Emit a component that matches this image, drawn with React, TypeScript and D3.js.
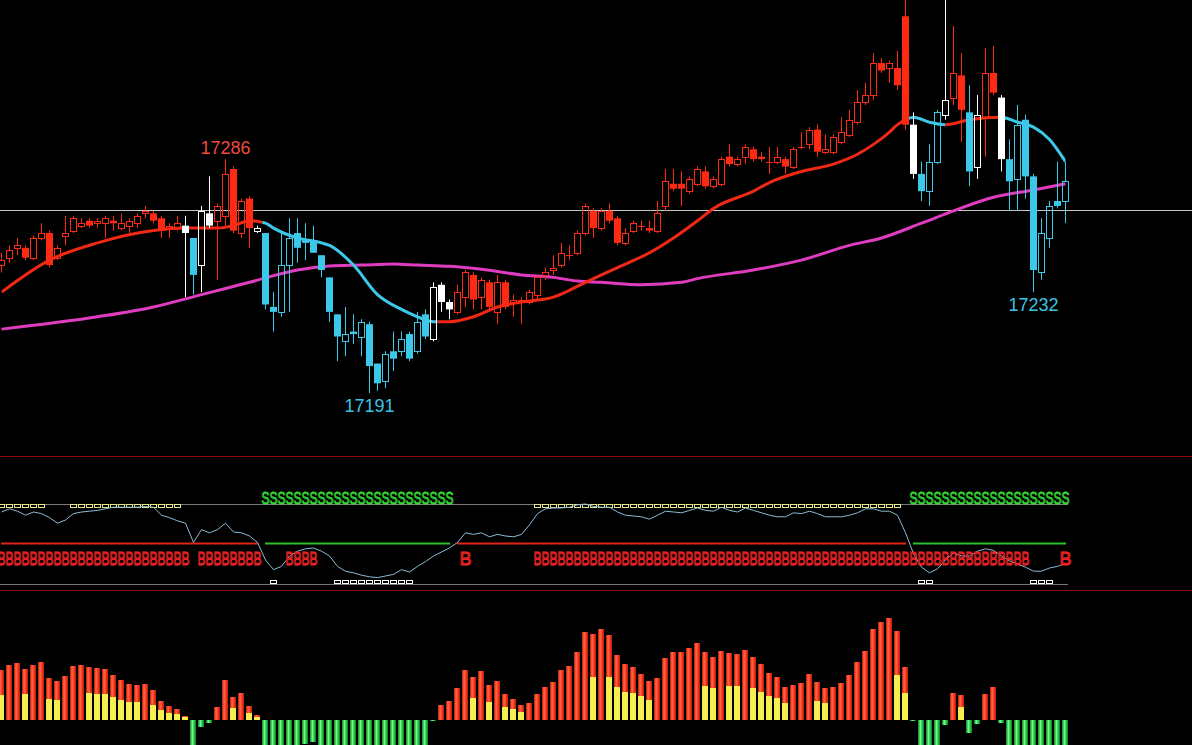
import React from 'react';
import * as d3 from 'd3';

const W = 1192;
const H = 745;

// ---------- price panel data ----------
// [open, high, low, close]
const ohlc: [number, number, number, number][] = [
  [17243, 17248, 17240, 17245], [17246, 17251, 17244, 17249], [17250, 17254, 17247, 17251], [17250, 17251, 17245, 17246],
  [17246, 17255, 17245, 17254], [17254, 17260, 17253, 17256], [17256, 17257, 17242, 17243], [17246, 17251, 17245, 17250],
  [17255, 17263, 17251, 17256], [17257, 17263, 17256, 17262], [17259, 17262, 17258, 17260], [17261, 17262, 17258, 17259],
  [17260, 17262, 17258, 17261], [17260, 17263, 17254, 17262], [17261, 17263, 17257, 17260], [17258, 17264, 17257, 17260],
  [17259, 17262, 17256, 17261], [17260, 17264, 17258, 17263], [17264, 17267, 17262, 17265], [17264, 17265, 17260, 17261],
  [17262, 17263, 17254, 17257], [17258, 17260, 17254, 17259], [17258, 17263, 17257, 17260], [17259, 17263, 17230, 17256],
  [17254, 17254, 17231, 17239], [17243, 17267, 17232, 17265], [17264, 17279, 17258, 17259], [17261, 17268, 17237, 17267],
  [17263, 17286, 17259, 17280], [17282, 17283, 17256, 17257], [17256, 17270, 17254, 17269], [17270, 17271, 17250, 17258],
  [17257, 17259, 17256, 17258], [17256, 17256, 17225, 17227], [17226, 17232, 17216, 17224], [17224, 17256, 17222, 17243],
  [17243, 17262, 17224, 17254], [17256, 17262, 17244, 17250], [17253, 17260, 17245, 17252], [17253, 17259, 17248, 17248],
  [17247, 17247, 17238, 17241], [17238, 17238, 17220, 17224], [17223, 17223, 17204, 17214], [17212, 17226, 17206, 17215],
  [17216, 17223, 17211, 17215], [17214, 17221, 17206, 17220], [17219, 17220, 17191, 17202], [17203, 17203, 17192, 17195],
  [17196, 17208, 17193, 17207], [17208, 17216, 17200, 17205], [17208, 17216, 17206, 17213], [17215, 17216, 17204, 17205],
  [17208, 17224, 17207, 17220], [17223, 17225, 17213, 17214], [17213, 17236, 17212, 17234], [17235, 17236, 17224, 17228],
  [17228, 17229, 17221, 17225], [17224, 17235, 17223, 17232], [17230, 17241, 17226, 17240], [17239, 17240, 17225, 17229],
  [17230, 17238, 17225, 17237], [17236, 17237, 17225, 17226], [17224, 17239, 17219, 17236], [17236, 17237, 17225, 17226],
  [17228, 17231, 17222, 17229], [17229, 17230, 17219, 17229], [17228, 17233, 17227, 17232], [17231, 17239, 17229, 17238],
  [17239, 17242, 17237, 17240], [17241, 17247, 17239, 17242], [17243, 17252, 17242, 17248], [17247, 17251, 17245, 17247],
  [17248, 17257, 17247, 17256], [17256, 17268, 17255, 17267], [17265, 17266, 17254, 17258], [17258, 17266, 17257, 17265],
  [17265, 17268, 17260, 17261], [17262, 17263, 17251, 17252], [17252, 17258, 17251, 17256], [17257, 17261, 17256, 17260],
  [17259, 17261, 17257, 17259], [17258, 17261, 17256, 17257], [17257, 17269, 17256, 17264], [17267, 17282, 17265, 17277],
  [17276, 17282, 17273, 17274], [17276, 17281, 17267, 17274], [17273, 17279, 17272, 17278], [17276, 17283, 17275, 17282],
  [17281, 17283, 17274, 17275], [17275, 17279, 17274, 17278], [17276, 17287, 17275, 17286], [17287, 17292, 17283, 17284],
  [17284, 17287, 17283, 17286], [17287, 17292, 17284, 17291], [17290, 17291, 17285, 17286], [17287, 17289, 17285, 17286],
  [17285, 17291, 17280, 17285], [17285, 17291, 17284, 17287], [17286, 17287, 17280, 17283], [17283, 17291, 17282, 17290],
  [17291, 17297, 17290, 17291], [17292, 17299, 17290, 17298], [17298, 17300, 17287, 17289], [17289, 17296, 17288, 17290],
  [17289, 17296, 17288, 17295], [17293, 17303, 17292, 17297], [17296, 17306, 17295, 17302], [17301, 17314, 17300, 17309],
  [17309, 17317, 17308, 17312], [17312, 17329, 17310, 17325], [17325, 17327, 17321, 17322], [17323, 17326, 17317, 17325],
  [17323, 17330, 17314, 17316], [17344, 17358, 17298, 17300], [17300, 17305, 17278, 17280], [17280, 17285, 17269, 17273],
  [17273, 17292, 17267, 17285], [17285, 17306, 17284, 17305], [17304, 17356, 17302, 17310], [17311, 17340, 17308, 17321],
  [17320, 17329, 17293, 17306], [17305, 17316, 17275, 17281], [17283, 17312, 17278, 17304], [17303, 17331, 17287, 17321],
  [17321, 17332, 17312, 17313], [17311, 17312, 17281, 17286], [17286, 17294, 17265, 17277], [17278, 17308, 17265, 17300],
  [17302, 17304, 17270, 17279], [17279, 17280, 17232, 17241], [17240, 17262, 17237, 17256], [17254, 17269, 17250, 17267],
  [17269, 17285, 17266, 17267], [17269, 17285, 17260, 17277],
];

// colour state per candle range: r = red, c = cyan, w = white
const trendRanges: [number, number, string][] = [
  [0, 22, 'r'], [23, 23, 'w'], [24, 24, 'c'], [25, 26, 'w'], [27, 31, 'r'], [32, 32, 'w'], [33, 53, 'c'],
  [54, 56, 'w'], [57, 113, 'r'], [114, 114, 'w'], [115, 117, 'c'], [118, 118, 'w'], [119, 120, 'r'],
  [121, 121, 'c'], [122, 122, 'w'], [123, 124, 'r'], [125, 125, 'w'], [126, 133, 'c'],
];

const maShortIdx = [0, 6, 12, 19, 23, 27, 29, 31, 33, 34, 37, 40, 41, 44, 47, 50, 52, 54, 56, 59, 62, 65, 69, 73, 75, 77, 81, 84, 87, 89, 94, 96, 100, 104, 107, 109, 111, 112, 113, 114, 116, 118, 121, 125, 127, 129, 131, 133];
const maShortVal = [17232, 17245, 17252, 17257, 17258, 17258, 17259, 17261, 17260, 17258, 17254, 17252, 17251, 17243, 17231, 17225, 17222, 17220, 17220, 17222, 17226, 17228, 17230, 17236, 17239, 17242, 17248, 17254, 17261, 17266, 17273, 17276.5, 17281, 17284, 17288, 17292, 17297, 17300, 17302, 17303, 17301, 17300, 17302, 17303, 17301, 17299, 17294, 17285];
const maShortColors: [number, number, string][] = [
  [0, 32.6, 'r'], [32.6, 54.5, 'c'], [54.5, 113, 'r'], [113, 118, 'c'], [118, 125.2, 'r'], [125.2, 133, 'c'],
];

const maLongIdx = [0, 12, 19, 25, 31, 37, 41, 45, 49, 52, 56, 60, 65, 69, 72, 75, 80, 85, 87, 94, 100, 106, 110, 115, 119, 124, 129, 133];
const maLongVal = [17217, 17222, 17226, 17231, 17236, 17241, 17242.6, 17243, 17243.4, 17243, 17242.5, 17241.3, 17239, 17238, 17236.5, 17236, 17235, 17236, 17237.5, 17241, 17245, 17251, 17254, 17260, 17265, 17270.5, 17273.5, 17276];

const refPrice = 17265.3;
const highLabels = [28];
const lowLabels = [46, 129];

// ---------- indicator panel data (0..100) ----------
const indicator = [
  90, 94, 91, 86, 90, 88, 83, 76, 80, 88,
  90, 91, 92, 94, 96, 96, 96, 96, 97, 96,
  86, 83, 79, 76, 52, 68, 64, 68, 76, 65,
  64, 60, 52, 30, 18, 22, 35, 41, 44, 45,
  41, 35, 22, 16, 14, 11, 9, 8, 10, 12,
  18, 15, 22, 28, 35, 40, 45, 52, 64, 62,
  64, 59, 62, 60, 59, 62, 74, 88, 94, 95,
  95, 96, 99, 100, 97, 96, 96, 90, 86, 85,
  84, 81, 86, 91, 90, 89, 92, 95, 92, 91,
  96, 92, 90, 95, 92, 89, 86, 84, 84, 89,
  88, 91, 88, 84, 84, 84, 86, 89, 94, 94,
  91, 91, 86, 64, 38, 21, 14, 19, 30, 39,
  35, 35, 41, 44, 42, 35, 29, 25, 21, 16,
  16, 20, 22, 26,
];
const topMarks: [number, number][] = [[0, 5], [9, 22], [67, 112]];
const bottomMarks: [number, number][] = [[34, 34], [42, 51], [115, 116], [129, 131]];
const sMarks: [number, number][] = [[33, 56], [114, 133]];
const bMarks: [number, number][] = [[0, 23], [25, 32], [36, 39], [58, 58], [67, 128], [133, 133]];
const stateLine: [number, number, string][] = [[0, 32, 'r'], [33, 56, 'g'], [57, 113, 'r'], [114, 133, 'g']];

// ---------- histogram panel data ----------
const hist = [
  50, 55, 57, 51, 55, 58, 42, 39, 44, 54,
  55, 53, 52, 51, 45, 40, 36, 35, 36, 30,
  19, 14, 11, 4, -40, -7, -3, 13, 40, 23,
  27, 14, 5, -40, -40, -40, -40, -40, -24, -22,
  -40, -40, -40, -40, -40, -40, -40, -40, -40, -40,
  -40, -40, -40, -40, -1, 15, 19, 32, 50, 43,
  49, 35, 39, 26, 21, 15, 17, 26, 33, 38,
  50, 54, 68, 88, 86, 91, 85, 65, 56, 53,
  46, 39, 42, 62, 68, 68, 72, 77, 68, 63,
  69, 67, 66, 70, 63, 56, 47, 43, 33, 35,
  37, 46, 38, 32, 33, 37, 45, 58, 69, 91,
  98, 102, 89, 53, -1, -40, -40, -40, -5, 27,
  25, -13, -4, 26, 33, -3, -40, -40, -40, -40,
  -40, -40, -40, -40,
];
const yellow = [
  25, 0, 0, 26, 0, 0, 21, 20, 0, 0,
  0, 27, 26, 26, 23, 20, 18, 18, 0, 15,
  10, 7, 6, 3, 0, 0, 0, 0, 0, 12,
  0, 7, 3, 0, 0, 0, 0, 0, 0, 0,
  0, 0, 0, 0, 0, 0, 0, 0, 0, 0,
  0, 0, 0, 0, 0, 0, 0, 0, 0, 22,
  0, 18, 0, 13, 11, 8, 0, 0, 0, 0,
  0, 0, 0, 0, 43, 0, 43, 33, 28, 27,
  24, 20, 0, 0, 0, 0, 0, 0, 34, 32,
  0, 34, 34, 0, 32, 28, 24, 22, 17, 0,
  0, 0, 19, 17, 0, 0, 0, 0, 0, 0,
  0, 0, 45, 27, 0, 0, 0, 0, 0, 0,
  13, 0, 0, 0, 0, 0, 0, 0, 0, 0,
  0, 0, 0, 0,
];

const COL: Record<string, string> = { r: '#ff2a14', c: '#3cc8e8', w: '#ffffff', g: '#22c022' };

function expand(ranges: [number, number][]) {
  const out: number[] = [];
  ranges.forEach(([a, b]) => {
    for (let i = a; i <= b; i++) out.push(i);
  });
  return out;
}

export default function App() {
  const n = ohlc.length;
  const x = d3.scaleLinear().domain([0, n - 1]).range([1, 1065]);
  const step = x(1) - x(0);
  const px = (i: number) => Math.round(x(i)) + 0.5;
  const y = d3.scaleLinear().domain([17350.6, 17165.9]).range([0, 455]);
  const yi = d3.scaleLinear().domain([0, 100]).range([584, 504]);
  const yh = d3.scaleLinear().domain([0, 100]).range([720, 620]);

  const colorOf = (i: number) => {
    const r = trendRanges.find(([a, b]) => i >= a && i <= b);
    return COL[r ? r[2] : 'r'];
  };

  const maShort = d3
    .line<number>()
    .x((_, k) => x(maShortIdx[k]) + 0.5)
    .y((d) => y(d))
    .curve(d3.curveMonotoneX)(maShortVal) as string;
  const maLong = d3
    .line<number>()
    .x((_, k) => x(maLongIdx[k]) + 0.5)
    .y((d) => y(d))
    .curve(d3.curveMonotoneX)(maLongVal) as string;
  const indLine = d3
    .line<number>()
    .x((_, k) => x(k) + 0.5)
    .y((d) => yi(d))(indicator) as string;

  // one text element per run of markers, squeezed to one bar step per letter
  const runText = (
    ranges: [number, number][],
    ch: string,
    yBase: number,
    size: number,
    fill: string,
    stroke: string,
    key: string
  ) =>
    ranges.map(([a, b]) => {
      const count = b - a + 1;
      const x0 = px(a) - step / 2;
      const len = step * count;
      return count > 1 ? (
        <text
          key={`${key}${a}`}
          x={x0}
          y={yBase}
          fontSize={size}
          textLength={len}
          lengthAdjust="spacingAndGlyphs"
          fill={fill}
          stroke={stroke}
          strokeWidth={0.8}
        >
          {ch.repeat(count)}
        </text>
      ) : (
        <text key={`${key}${a}`} x={px(a)} y={yBase} fontSize={size} textAnchor="middle" fill={fill} stroke={stroke} strokeWidth={0.8}>
          {ch}
        </text>
      );
    });

  return (
    <svg
      width={W}
      height={H}
      style={{ position: 'fixed', left: 0, top: 0, background: '#000', display: 'block' }}
      fontFamily="'Liberation Sans', Arial, sans-serif"
    >
      <defs>
        <clipPath id="mainClip">
          <rect x={0} y={0} width={W} height={455} />
        </clipPath>
        <clipPath id="histClip">
          <rect x={0} y={591} width={W} height={154} />
        </clipPath>
        {maShortColors.map(([a, b], k) => (
          <clipPath id={`maSeg${k}`} key={k}>
            <rect x={x(a) + 0.5} y={0} width={x(b) - x(a)} height={455} />
          </clipPath>
        ))}
        <linearGradient id="gRed" x1="0" x2="1" y1="0" y2="0">
          <stop offset="0" stopColor="#b81a08" />
          <stop offset="0.35" stopColor="#ff6a4a" />
          <stop offset="0.65" stopColor="#ff3a1e" />
          <stop offset="1" stopColor="#b81a08" />
        </linearGradient>
        <linearGradient id="gGreen" x1="0" x2="1" y1="0" y2="0">
          <stop offset="0" stopColor="#0a7a22" />
          <stop offset="0.4" stopColor="#70ff90" />
          <stop offset="0.65" stopColor="#2cd04c" />
          <stop offset="1" stopColor="#0a7a22" />
        </linearGradient>
      </defs>
      <rect x={0} y={0} width={W} height={H} fill="#000" />

      {/* ---------- price panel ---------- */}
      <g clipPath="url(#mainClip)">
        <line x1={0} x2={W} y1={Math.round(y(refPrice)) + 0.5} y2={Math.round(y(refPrice)) + 0.5} stroke="#c8c8c8" strokeWidth={1} />
        <path d={maLong} fill="none" stroke="#e03cc0" strokeWidth={3} />
        {maShortColors.map(([, , c], k) => (
          <path key={k} d={maShort} fill="none" stroke={c === 'r' ? '#f02814' : '#3cc8e8'} strokeWidth={3} clipPath={`url(#maSeg${k})`} />
        ))}
        {ohlc.map(([o, h, l, c], i) => {
          const col = colorOf(i);
          const cx = px(i);
          const yo = y(o);
          const yc = y(c);
          const top = Math.min(yo, yc);
          const bot = Math.max(yo, yc);
          const yH = y(h);
          const yL = y(l);
          if (c > o) {
            const t = Math.round(top) + 0.5;
            const b = Math.round(bot) + 0.5;
            return (
              <g key={i}>
                <line x1={cx} x2={cx} y1={yH} y2={t} stroke={col} />
                <line x1={cx} x2={cx} y1={b} y2={yL} stroke={col} />
                <rect x={cx - 3} y={t} width={6} height={Math.max(1, b - t)} fill="none" stroke={col} />
              </g>
            );
          }
          if (c < o) {
            return (
              <g key={i}>
                <line x1={cx} x2={cx} y1={yH} y2={yL} stroke={col} />
                <rect x={cx - 3.5} y={top} width={7} height={Math.max(1, bot - top)} fill={col} />
              </g>
            );
          }
          const ym = Math.round(yo) + 0.5;
          return (
            <g key={i}>
              <line x1={cx} x2={cx} y1={yH} y2={yL} stroke={col} />
              <line x1={cx - 3.5} x2={cx + 3.5} y1={ym} y2={ym} stroke={col} />
            </g>
          );
        })}
        {highLabels.map((i) => (
          <text key={`h${i}`} x={px(i)} y={y(ohlc[i][1]) - 5} textAnchor="middle" fontSize={18} fill="#ee4a3e">
            {ohlc[i][1]}
          </text>
        ))}
        {lowLabels.map((i) => (
          <text key={`l${i}`} x={px(i)} y={y(ohlc[i][2]) + 19} textAnchor="middle" fontSize={18} fill="#3cc4e4">
            {ohlc[i][2]}
          </text>
        ))}
      </g>

      {/* separators */}
      <line x1={0} x2={W} y1={456.5} y2={456.5} stroke="#8c0a0a" />
      <line x1={0} x2={W} y1={590.5} y2={590.5} stroke="#8c0a0a" />

      {/* ---------- indicator panel ---------- */}
      <line x1={0} x2={x(n - 1) + 3} y1={yi(100) + 0.5} y2={yi(100) + 0.5} stroke="#7a7a7a" />
      <line x1={0} x2={x(n - 1) + 3} y1={yi(0) + 0.5} y2={yi(0) + 0.5} stroke="#7a7a7a" />
      {expand(topMarks).map((i) => (
        <rect key={`t${i}`} x={px(i) - 3} y={yi(100) + 0.5} width={6} height={3} fill="none" stroke="#e6e68a" />
      ))}
      {expand(bottomMarks).map((i) => (
        <rect key={`b${i}`} x={px(i) - 3} y={yi(0) - 3.5} width={6} height={3} fill="none" stroke="#ffffff" />
      ))}
      {stateLine.map(([a, b, c], k) => (
        <line key={k} x1={x(a)} x2={x(b) + 1} y1={543.5} y2={543.5} stroke={c === 'r' ? '#e02418' : '#2cc02c'} strokeWidth={2} />
      ))}
      <path d={indLine} fill="none" stroke="#8cbcd8" strokeWidth={1} />
      {runText(sMarks, 'S', 504, 16, '#1c9a1c', '#3ee03e', 's')}
      {runText(bMarks, 'B', 565, 18, '#b01010', '#ff2a2a', 'B')}

      {/* ---------- histogram panel ---------- */}
      <g clipPath="url(#histClip)">
        {hist.map((v, i) => {
          const cx = px(i);
          if (v > 0) {
            return (
              <g key={i}>
                <rect x={cx - 3.5} y={yh(v)} width={6} height={yh(0) - yh(v)} fill="url(#gRed)" />
                {yellow[i] > 0 && <rect x={cx - 3.5} y={yh(yellow[i])} width={6} height={yh(0) - yh(yellow[i])} fill="#f6ee4c" />}
              </g>
            );
          }
          return <rect key={i} x={cx - 3.5} y={yh(0)} width={6} height={yh(v) - yh(0)} fill="url(#gGreen)" />;
        })}
      </g>
    </svg>
  );
}
